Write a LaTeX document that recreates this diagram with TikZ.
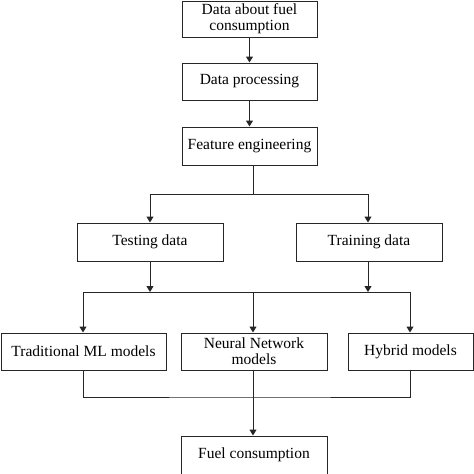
\documentclass[tikz,border=0pt]{standalone}
\usepackage{fontspec}
\setmainfont{Liberation Serif}
\usetikzlibrary{arrows.meta}
\begin{document}
\begin{tikzpicture}[x=1pt,y=-1pt,
    box/.style={draw=black!85, line width=1pt, inner sep=0pt, align=center,
        font=\fontsize{15.5}{16}\selectfont},
    link/.style={draw=black!85, line width=1pt},
    flow/.style={link, -{Triangle[length=6pt,width=7pt]}}]
    \useasboundingbox (0,0) rectangle (474,474);
    % boxes
    \node[box, minimum width=135pt, minimum height=36pt] (raw) at (249.5,19) {Data about fuel\\consumption};
    \node[box, minimum width=135pt, minimum height=37pt] (proc) at (249.5,81.5) {Data processing};
    \node[box, minimum width=135pt, minimum height=38pt] (feat) at (249.5,146) {Feature engineering};
    \node[box, minimum width=146pt, minimum height=38pt] (test) at (150,242) {Testing data};
    \node[box, minimum width=146pt, minimum height=38pt] (train) at (369,242) {Training data};
    \node[box, minimum width=165pt, minimum height=37pt] (trad) at (83.5,351.5) {Traditional ML models};
    \node[box, minimum width=146pt, minimum height=37pt] (nn) at (254,351.5) {Neural Network\\models};
    \node[box, minimum width=125pt, minimum height=37pt] (hyb) at (410.5,351.5) {Hybrid models};
    \node[box, minimum width=146pt, minimum height=38pt] (fuel) at (254,455) {Fuel consumption};
    % junctions
    \coordinate (split) at (253,194);
    \coordinate (merge) at (253,292);
    \coordinate (join) at (253,397);
    \draw[flow] (raw) -- (proc);
    \draw[flow] (proc) -- (feat);
    \draw[link] (feat.south -| split) -- (split);
    \draw[flow] (split) -| (test.north);
    \draw[flow] (split) -| (train.north -| 368,0);
    \draw[flow] (test.south) -- (test.south |- merge);
    \draw[flow] (train.south -| 368,0) -- (368,292);
    \draw[link] (83,292) -- (410,292);
    \draw[flow] (83,292) -- (trad.north -| 83,0);
    \draw[flow] (merge) -- (nn.north -| merge);
    \draw[flow] (410,292) -- (hyb.north -| 410,0);
    \draw[link] (trad.south -| 83,0) |- (join) -| (hyb.south -| 410,0);
    \draw[flow] (nn.south -| join) -- (fuel.north -| join);
\end{tikzpicture}
\end{document}
